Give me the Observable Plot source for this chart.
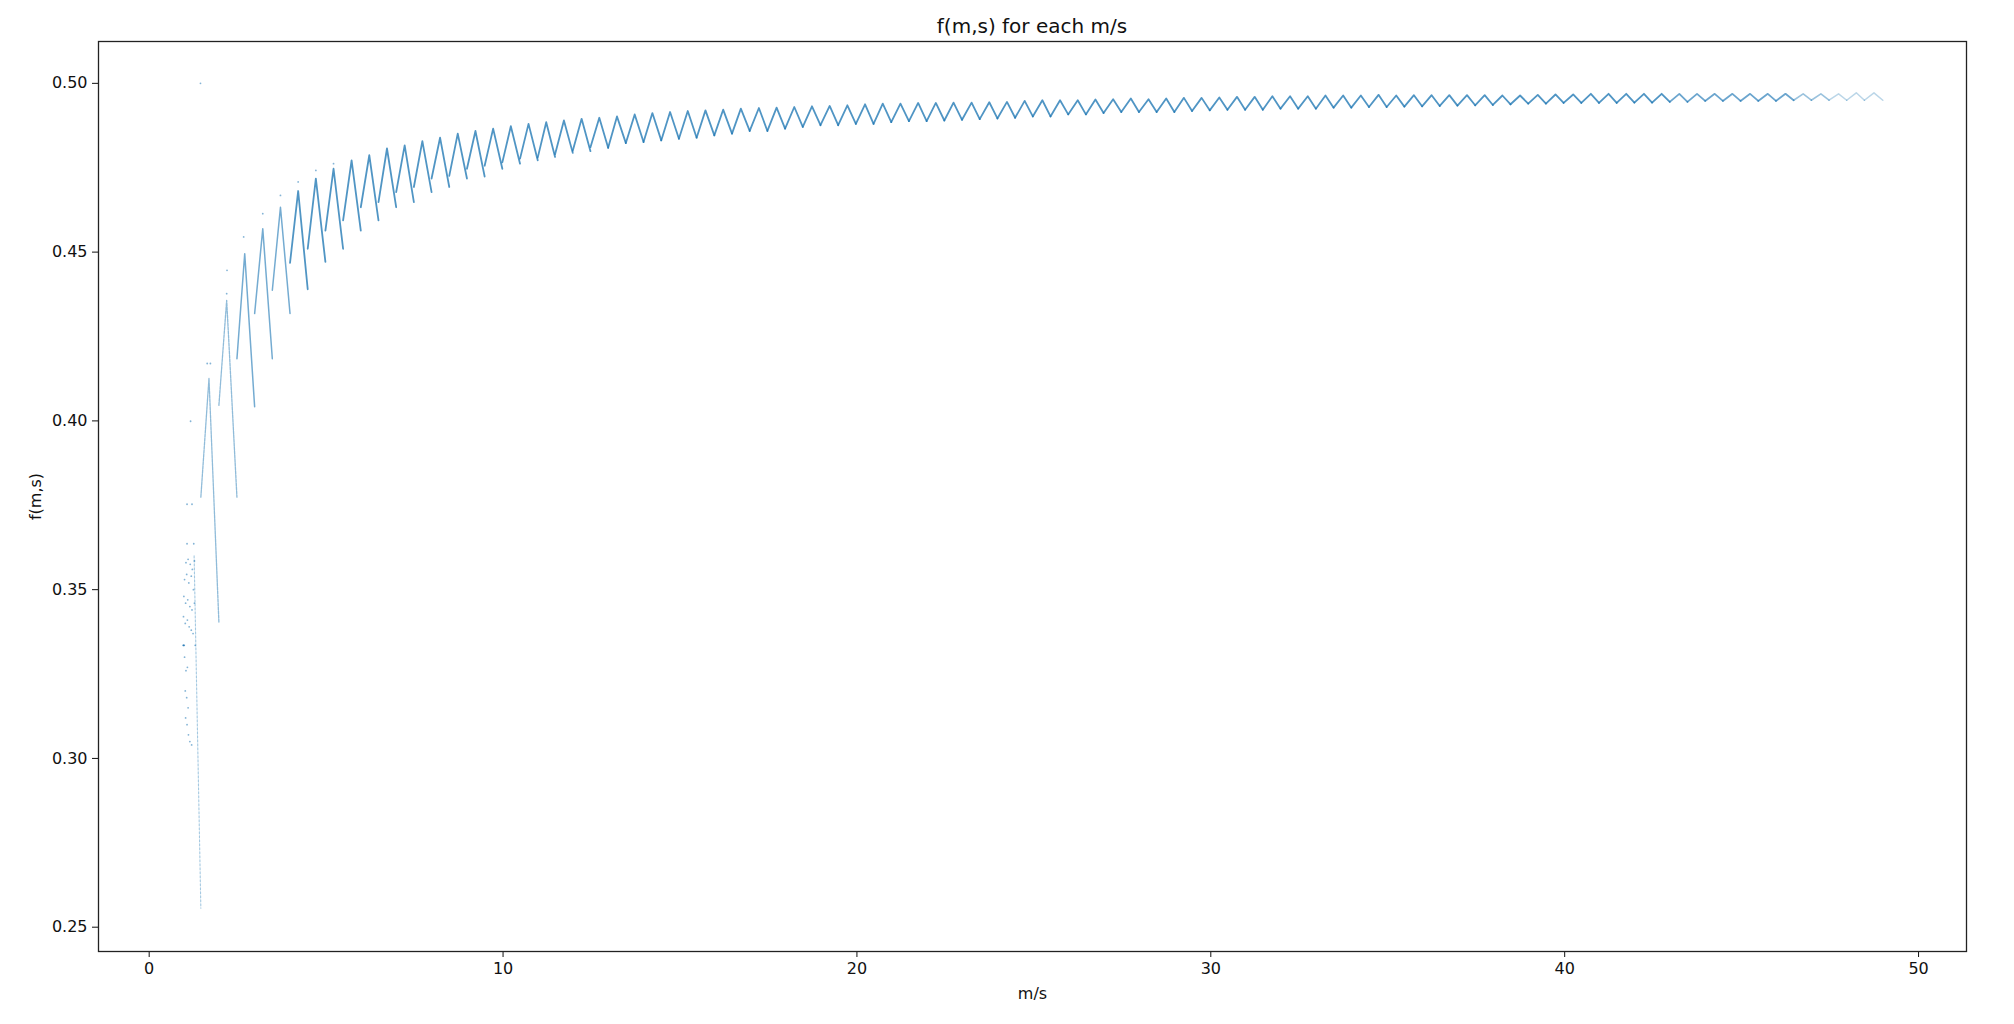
<!DOCTYPE html>
<html>
<head>
<meta charset="utf-8">
<script src="https://cdn.jsdelivr.net/npm/d3@7"></script>
<script src="https://cdn.jsdelivr.net/npm/@observablehq/plot@0.6"></script>
<style>
  html, body { margin: 0; padding: 0; background: #fff; }
  #wrap { position: relative; width: 2014px; height: 1024px; font-family: "DejaVu Sans", sans-serif; }
  #title { position: absolute; left: 98px; width: 1868px; top: 16px; text-align: center;
           font-size: 20px; line-height: 20px; color: #111; }
  #chart { position: absolute; left: 0; top: 0; }
</style>
</head>
<body>
<div id="wrap">
  <div id="chart"></div>
  <div id="title">f(m,s) for each m/s</div>
</div>
<script>
// ---- data ----
// peaks of each oscillation cycle (cycle 0 is the noisy first one)
const peakX = [1.27, 1.69, 2.19, 2.70, 3.21, 3.71, 4.21, 4.71, 5.21, 5.72, 6.22, 6.72, 7.22, 7.72, 8.22, 8.72, 9.22, 9.72, 10.22, 10.72, 11.22,
  11.72, 12.22, 12.72, 13.22, 13.72, 14.22, 14.72, 15.22, 15.72, 16.22, 16.72, 17.23, 17.73, 18.23, 18.73, 19.23, 19.73, 20.23, 20.73, 21.23, 21.73, 22.23,
  22.73, 23.24, 23.74, 24.24, 24.74, 25.24, 25.74, 26.24, 26.74, 27.24, 27.74, 28.24, 28.74, 29.24, 29.74, 30.24, 30.74, 31.24, 31.74, 32.24, 32.74,
  33.24, 33.74, 34.24, 34.74, 35.24, 35.74, 36.24, 36.74, 37.24, 37.74, 38.24, 38.74, 39.24, 39.74, 40.24, 40.74, 41.24, 41.74, 42.24, 42.74,
  43.24, 43.74, 44.24, 44.74, 45.24, 45.74, 46.24, 46.74, 47.24, 47.74, 48.24, 48.74];
const peakY = [0.360, 0.4126, 0.4357, 0.4495, 0.4569, 0.4633, 0.4681, 0.4718, 0.4747, 0.4772, 0.4787, 0.4807, 0.4816, 0.4829, 0.4839, 0.4851, 0.4859, 0.4866, 0.4873, 0.4880, 0.4885,
  0.4890, 0.4895, 0.4898, 0.4902, 0.4908, 0.4912, 0.4915, 0.4918, 0.4920, 0.4922, 0.4925, 0.4927, 0.4928, 0.4930, 0.4932, 0.4933, 0.4935, 0.4938, 0.4940, 0.4940, 0.4942, 0.4942,
  0.4943, 0.4943, 0.4944,
  0.4945, 0.4948, 0.4950, 0.4950, 0.4950, 0.4952, 0.4953, 0.4955, 0.4953, 0.4955, 0.4957, 0.4957, 0.4958, 0.4960, 0.4960, 0.4962, 0.4962, 0.4962, 0.4964, 0.4964, 0.4964, 0.4966, 0.4964,
  0.4965, 0.4965, 0.4965, 0.4965, 0.4965,
  0.4964, 0.4964, 0.4966, 0.4967, 0.4967, 0.4969, 0.4969, 0.4969, 0.4969, 0.4969, 0.4969, 0.4969, 0.4969, 0.4969, 0.4969, 0.4969, 0.4969, 0.4969, 0.4969, 0.4969, 0.4972, 0.4972];
// lowest point reached at the end of each cycle's fall
const troughX = [1.46, 1.97, 2.48, 2.98, 3.48, 3.98, 4.48, 4.98, 5.48, 5.98, 6.48, 6.98, 7.48, 7.98, 8.48, 8.98, 9.48, 9.98, 10.48, 10.98,
  11.47, 11.97, 12.47, 12.97, 13.47, 13.97, 14.47, 14.97, 15.47, 15.97, 16.47, 16.97, 17.47, 17.97, 18.47, 18.97, 19.47, 19.97, 20.47, 20.97, 21.47, 21.97,
  22.47, 22.97, 23.47, 23.97, 24.47, 24.97, 25.47, 25.97, 26.47, 26.97, 27.47, 27.97, 28.47, 28.97, 29.47, 29.97, 30.47, 30.97, 31.47, 31.97,
  32.47, 32.97, 33.47, 33.97, 34.47, 34.97, 35.47, 35.97, 36.47, 36.97, 37.47, 37.97, 38.47, 38.97, 39.47, 39.97, 40.47, 40.97, 41.47, 41.97,
  42.47, 42.97, 43.47, 43.97, 44.47, 44.97, 45.47, 45.97, 46.47, 46.97, 47.47, 47.97, 48.47, 48.99];
const troughY = [0.2556, 0.3404, 0.3774, 0.4042, 0.4184, 0.4318, 0.4390, 0.4471, 0.4510, 0.4564, 0.4594, 0.4633, 0.4648, 0.4678, 0.4693, 0.4718, 0.4724, 0.4747, 0.4762, 0.4772,
  0.4782, 0.4794, 0.4799, 0.4809, 0.4823, 0.4826, 0.4831, 0.4836, 0.4839, 0.4846, 0.4851, 0.4859, 0.4859, 0.4866, 0.4871, 0.4876, 0.4876, 0.4880, 0.4880, 0.4885, 0.4888, 0.4888,
  0.4890, 0.4892, 0.4894, 0.4896,
  0.4898, 0.4902, 0.4902, 0.4908, 0.4908, 0.4912, 0.4915, 0.4915, 0.4915, 0.4915, 0.4918, 0.4920, 0.4922, 0.4922, 0.4922, 0.4925, 0.4925, 0.4925, 0.4928, 0.4928, 0.4930, 0.4930,
  0.4931, 0.4932, 0.4933, 0.4934, 0.4935, 0.4936,
  0.4938, 0.4940, 0.4940, 0.4942, 0.4942, 0.4942, 0.4942, 0.4943, 0.4943, 0.4945, 0.4945, 0.4948, 0.4948, 0.4948, 0.4948, 0.4948, 0.4950, 0.4950, 0.4950, 0.4950, 0.4950, 0.4950];
// where the rise of cycles 1..23 starts (above the previous fall end); later cycles start at the trough
const riseY = [0.3774, 0.4046, 0.4184, 0.4318, 0.4387, 0.4468, 0.4510, 0.4564, 0.4594, 0.4633, 0.4648, 0.4678, 0.4693, 0.4718, 0.4726, 0.4747, 0.4756, 0.4766, 0.4777, 0.4780, 0.4790, 0.4800, 0.4811];
// scattered single values near the start
const scatterX = [1.45, 1.07, 1.21, 1.17, 1.07, 1.26, 1.04, 1.10, 1.16, 1.22, 1.28, 1.00, 1.06, 1.12, 1.19, 1.25, 0.98, 1.03, 1.09, 1.15, 1.21, 1.28,
  0.97, 1.02, 1.08, 1.13, 1.19, 1.24, 0.96, 0.97, 0.98, 0.99, 1.30, 1.00, 1.04, 1.08, 1.02, 1.06, 1.10, 1.03, 1.07, 1.11, 1.15, 1.20,
  1.64, 1.73, 2.20, 2.19, 2.67, 3.21, 3.71, 4.21, 4.71, 5.21];
const scatterY = [0.5000, 0.3753, 0.3753, 0.3999, 0.3636, 0.3636, 0.3580, 0.3590, 0.3575, 0.3560, 0.3585, 0.3530, 0.3545, 0.3520, 0.3540, 0.3500, 0.3480, 0.3460, 0.3470, 0.3450, 0.3440, 0.3460,
  0.3420, 0.3400, 0.3410, 0.3390, 0.3380, 0.3370, 0.3335, 0.3335, 0.3335, 0.3335, 0.3335, 0.3300, 0.3260, 0.3270, 0.3200, 0.3180, 0.3150, 0.3120, 0.3100, 0.3070, 0.3050, 0.3040,
  0.4170, 0.4170, 0.4446, 0.4377, 0.4545, 0.4614, 0.4668, 0.4708, 0.4742, 0.4762];
const xTicks = [0, 10, 20, 30, 40, 50];
const yTicks = [0.25, 0.30, 0.35, 0.40, 0.45, 0.50];

// ---- build the cycle polylines ----
const rows = [];
peakX.forEach((px, j) => {
  if (j > 0) {
    const ry = j - 1 < riseY.length ? riseY[j - 1] : troughY[j - 1];
    rows.push({cycle: j, x: troughX[j - 1], y: ry, px});
  }
  rows.push({cycle: j, x: px, y: peakY[j], px});
  rows.push({cycle: j, x: troughX[j], y: troughY[j], px});
});
const scatter = scatterX.map((x, i) => ({x, y: scatterY[i]}));

const C = "#1f77b4";
const tiers = [
  {test: d => d.px < 1.5, w: 1.1, o: 0.4, dash: "2,2"},
  {test: d => d.px >= 1.5 && d.px < 2.5, w: 1.3, o: 0.5, dash: "3,1"},
  {test: d => d.px >= 2.5 && d.px < 4, w: 1.5, o: 0.62, dash: null},
  {test: d => d.px >= 4 && d.px < 43, w: 1.8, o: 0.78, dash: null},
  {test: d => d.px >= 43 && d.px < 46.5, w: 1.8, o: 0.66, dash: null},
  {test: d => d.px >= 46.5 && d.px < 47.5, w: 1.6, o: 0.45, dash: null},
  {test: d => d.px >= 47.5, w: 1.5, o: 0.3, dash: null}
];

const chart = Plot.plot({
  width: 2014,
  height: 1024,
  marginLeft: 98,
  marginRight: 48,
  marginTop: 41,
  marginBottom: 73,
  style: {fontFamily: "DejaVu Sans, sans-serif", fontSize: "16px", color: "#111", background: "#fff"},
  x: {domain: [-1.432, 51.355], ticks: xTicks, tickSize: 6, tickPadding: 5, tickFormat: d => String(d),
      label: "m/s", labelAnchor: "center", labelOffset: 47, labelArrow: "none"},
  y: {domain: [0.2428, 0.5124], ticks: yTicks, tickSize: 6, tickPadding: 5, tickFormat: d3.format(".2f"),
      label: "f(m,s)", labelAnchor: "center", labelOffset: 69, labelArrow: "none"},
  marks: [
    ...tiers.map(t => Plot.line(rows.filter(t.test), {
      x: "x", y: "y", z: "cycle", stroke: C, strokeWidth: t.w, strokeOpacity: t.o,
      strokeDasharray: t.dash, strokeLinejoin: "round", curve: "linear"
    })),
    Plot.dot(scatter, {x: "x", y: "y", r: 0.9, fill: C, fillOpacity: 0.55, stroke: null}),
    Plot.frame({stroke: "#222", strokeWidth: 1.3})
  ]
});
document.getElementById("chart").appendChild(chart);
</script>
</body>
</html>
